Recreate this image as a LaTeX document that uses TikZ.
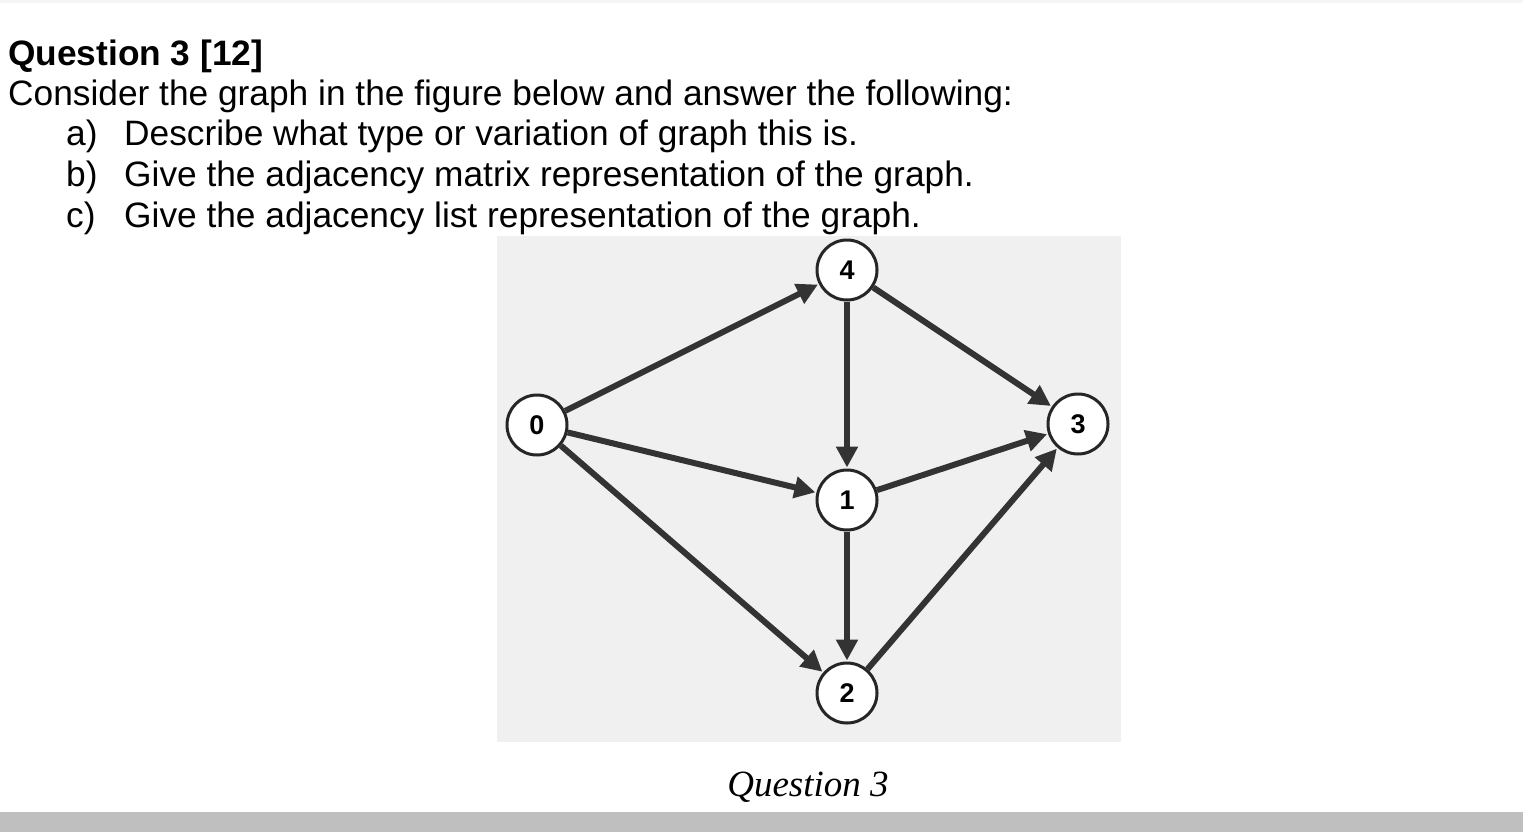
\documentclass[tikz,border=0pt]{standalone}
\usepackage{fontspec}
\setmainfont{Liberation Sans}
\newfontfamily\serifc{Liberation Serif}
\usetikzlibrary{arrows.meta}
\begin{document}
\begin{tikzpicture}[x=1pt,y=-1pt,
  vtx/.style={circle,draw=black!85,line width=3pt,fill=white,minimum size=60pt,inner sep=0pt,font=\fontsize{27}{27}\selectfont\bfseries},
  edge/.style={draw=black!80,line width=6pt,-{Triangle[length=21pt,width=21pt]},shorten >=1pt},
  txt/.style={anchor=base west,inner sep=0pt,font=\fontsize{35.3}{35}\selectfont}]
\useasboundingbox (0,0) rectangle (1523,836);
\fill[white] (0,0) rectangle (1523,836);
\fill[black!4] (0,0) rectangle (1523,3);
\fill[black!6] (497,236) rectangle (1121,742);
\fill[black!25] (0,812) rectangle (1523,832);
\node[txt,font=\fontsize{35.3}{35}\selectfont\bfseries] (t0) at (8,65) {Question 3 [12]};
\node[txt] (t1) at (8,105) {Consider the graph in the figure below and answer the following:};
\node[txt] (a1) at (66,145) {a)};\node[txt] (a2) at (124,145) {Describe what type or variation of graph this is.};
\node[txt] (b1) at (66,186) {b)};\node[txt] (b2) at (124,186) {Give the adjacency matrix representation of the graph.};
\node[txt] (c1) at (66,227) {c)};\node[txt] (c2) at (124,227) {Give the adjacency list representation of the graph.};
\node[vtx] (n4) at (847,270) {4};
\node[vtx] (n0) at (537,425) {0};
\node[vtx] (n3) at (1078,424) {3};
\node[vtx] (n1) at (847,500) {1};
\node[vtx] (n2) at (847,693) {2};
\draw[edge] (n0) -- (n4);
\draw[edge] (n0) -- (n1);
\draw[edge] (n0) -- (n2);
\draw[edge] (n4) -- (n1);
\draw[edge] (n4) -- (n3);
\draw[edge] (n1) -- (n3);
\draw[edge] (n1) -- (n2);
\draw[edge] (n2) -- (n3);
\node[anchor=base,inner sep=0pt,font=\serifc\itshape\fontsize{37}{37}\selectfont] (cap) at (808,796) {Question 3};
\end{tikzpicture}
\end{document}
